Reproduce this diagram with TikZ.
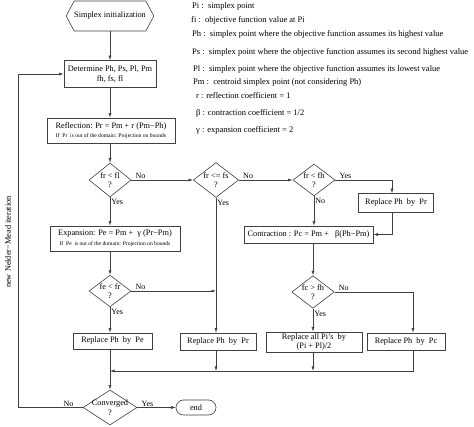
\documentclass[tikz,border=0pt]{standalone}
\usepackage{fontspec}
\setmainfont{Liberation Serif}
\usetikzlibrary{shapes.geometric,shapes.symbols,shapes.misc,arrows.meta,calc}
\newcommand{\mysmall}{\fontsize{5.6}{6.5}\selectfont}
\begin{document}
\begin{tikzpicture}[x=1pt,y=-1pt,
  every node/.style={font=\fontsize{8.3}{9.6}\selectfont},
  box/.style={draw=black!75,line width=0.6pt,rectangle,inner sep=1pt,align=center},
  dia/.style={draw=black!75,line width=0.6pt,diamond,inner sep=0pt,align=center,aspect=1.3,minimum width=42pt,minimum height=30pt},
  arr/.style={-{Latex[length=4.5pt,width=3pt]},draw=black!75,line width=0.6pt},
  ln/.style={draw=black!75,line width=0.6pt},
  lbl/.style={font=\fontsize{8}{9}\selectfont,inner sep=1pt},
  leg/.style={anchor=west,inner sep=0pt,font=\fontsize{8.5}{9.5}\selectfont}
]
\useasboundingbox (0,0) rectangle (474,427);

% legend
\node[leg] (l1) at (192,6) {Pi :\ \ simplex point};
\node[leg] (l2) at (191,20) {fi :\ \ objective function value at Pi};
\node[leg] (l3) at (192,34) {Ph :\ \ simplex point where the objective function assumes its highest value};
\node[leg] (l4) at (192,52) {Ps :\ \ simplex point where the objective function assumes its second highest value};
\node[leg] (l5) at (193,69) {Pl :\ \ simplex point where the objective function assumes its lowest value};
\node[leg] (l6) at (193,82) {Pm :\ \ centroid simplex point (not considering Ph)};
\node[leg] (l7) at (196,96) {r : reflection coefficient = 1};
\node[leg] (l8) at (196,113) {β : contraction coefficient = 1/2};
\node[leg] (l9) at (196,130) {γ : expansion coefficient = 2};

% main column
\node[draw=black!75,line width=0.6pt,signal,signal to=west and east,signal pointer angle=124,minimum width=85pt,minimum height=30pt,inner sep=0pt] (init) at (110,16) {Simplex initialization};
\node[box,minimum width=92pt,minimum height=27pt] (det) at (110,74) {Determine Ph, Ps, Pl, Pm\\fh, fs, fl};
\node[box,minimum width=128pt,minimum height=25pt] (refl) at (111,130.5) {Reflection: Pr = Pm + r (Pm−Ph)\\{\mysmall If\ \ Pr\ \ is out of the domain: Projection on bounds}};
\node[dia,minimum height=34pt] (d1) at (110,180) {fr < fl\\?};
\node[dia] (d2) at (216,180) {fr <= fs\\?};
\node[dia] (d3) at (314,180) {fr < fh\\?};
\node[box,minimum width=75pt,minimum height=19pt] (rpr1) at (396,203) {Replace Ph\ \ by\ \ Pr};
\node[box,minimum width=129pt,minimum height=17pt] (contr) at (308.5,234.5) {Contraction : Pc = Pm +\ \ \ β(Ph−Pm)};
\node[box,minimum width=130pt,minimum height=25pt] (exp) at (115,238.5) {Expansion: Pe = Pm +\ \ γ (Pr−Pm)\\{\mysmall If\ \ Pe\ \ is out of the domain: Projection on bounds}};
\node[dia] (d4) at (110,291) {fe < fr\\?};
\node[dia] (d5) at (313,292) {fc > fh\\?};
\node[box,minimum width=79pt,minimum height=16pt] (rpe) at (112.5,341) {Replace Ph\ \ by\ \ Pe};
\node[box,minimum width=76pt,minimum height=17pt] (rpr2) at (218,341.5) {Replace Ph\ \ by\ \ Pr};
\node[box,minimum width=96pt,minimum height=20pt,inner sep=0pt] (rall) at (314,342) {Replace all Pi’s\ \ by\\(Pi + Pl)/2};
\node[box,minimum width=78pt,minimum height=17pt] (rpc) at (406,341.5) {Replace Ph\ \ by\ \ Pc};
\node[dia,aspect=1.6,inner sep=-2pt,minimum width=54pt,minimum height=35pt] (conv) at (110,407.5) {Converged\\?};
\node[draw=black!75,line width=0.6pt,rounded rectangle,minimum width=42pt,minimum height=15pt,inner sep=1pt] (end) at (196,407.5) {end};
\node[rotate=90] (iter) at (8,242) {new Nelder−Mead iteration};

\coordinate (m) at (110,371);
\coordinate (cl) at (18,0);

% connectors
\draw[arr] (init.south) -- (det.north);
\draw[arr] (det.south) -- (det.south |- refl.north);
\draw[arr] (refl.south -| d1.north) -- (d1.north);
\draw[arr] (d1.east) -- (d2.west) node[lbl,pos=0,anchor=south west,xshift=3pt]{No};
\draw[arr] (d2.east) -- (d3.west) node[lbl,pos=0,anchor=south west,xshift=3pt]{No};
\draw[arr] (d3.east) -| ([xshift=-4pt]rpr1.north) node[lbl,pos=0,anchor=south west,xshift=3pt]{Yes};
\draw[arr] ([xshift=-4pt]rpr1.south) |- (contr.east);
\draw[arr] (d3.south) -- (d3.south |- contr.north) node[lbl,pos=0,anchor=north west,yshift=-1pt]{No};
\draw[arr] (d1.south) -- (d1.south |- exp.north) node[lbl,pos=0,anchor=north west,yshift=-1pt]{Yes};
\draw[arr] (d2.south) -- (d2.south |- rpr2.north) node[lbl,pos=0,anchor=north west,yshift=-1pt]{Yes};
\draw[arr] (exp.south -| d4.north) -- (d4.north);
\draw[arr] (d4.east) -- (d4.east -| d2.south) node[lbl,pos=0,anchor=south west,xshift=3pt]{No};
\draw[arr] (d4.south) -- (d4.south |- rpe.north) node[lbl,pos=0,anchor=north west,yshift=-1pt]{Yes};
\draw[arr] (contr.south -| d5.north) -- (d5.north);
\draw[arr] (d5.east) -| ([xshift=7pt]rpc.north) node[lbl,pos=0,anchor=south west,xshift=3pt]{No};
\draw[arr] (d5.south) -- (d5.south |- rall.north) node[lbl,pos=0,anchor=north west,yshift=-1pt]{Yes};
\draw[arr] ([xshift=7pt]rpc.south) |- (m);
\draw[arr] (rpr2.south -| d2.south) -- (d2.south |- m);
\draw[arr] (rall.south -| d5.south) -- (d5.south |- m);
\draw[arr] (rpe.south -| conv.north) -- (conv.north);
\draw[arr] (conv.east) -- (end.west) node[lbl,pos=0,anchor=south west,xshift=3pt]{Yes};
\draw[arr] (conv.west) -- node[lbl,pos=0,anchor=south east,xshift=-8pt]{No} (conv.west -| cl) -- (cl |- det.west) -- (det.west);
\end{tikzpicture}
\end{document}
